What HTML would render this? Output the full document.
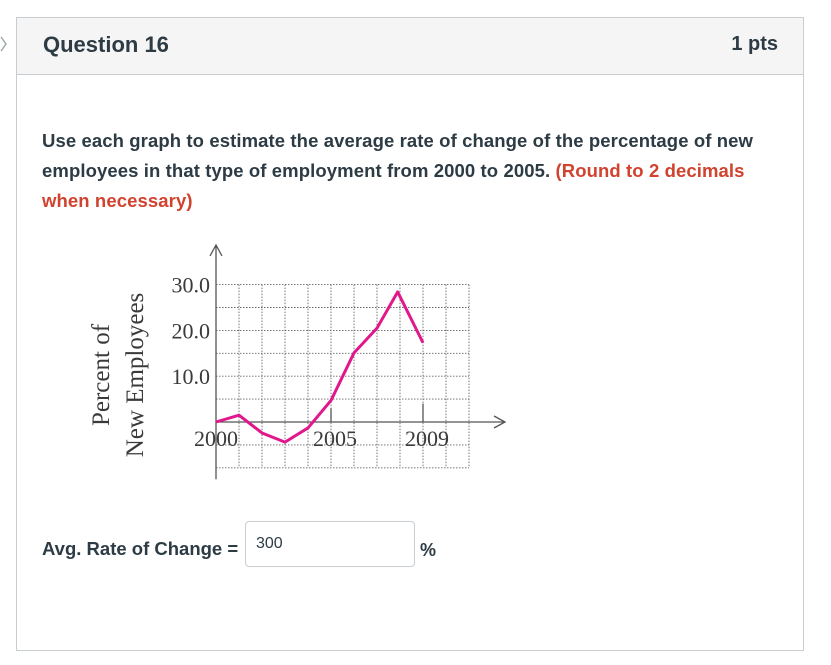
<!DOCTYPE html>
<html><head><meta charset="utf-8"><style>
body{margin:0;width:831px;height:665px;background:#fff;position:relative;overflow:hidden;font-family:"Liberation Sans",sans-serif;color:#2d3b45}
.box{position:absolute;left:16px;top:17px;width:786px;height:632px;border:1px solid #c7cdd1}
.hdr{position:absolute;left:0;top:0;width:786px;height:56px;background:#f5f5f5;border-bottom:1px solid #c7cdd1}
.t{position:absolute;font-weight:bold}
</style></head><body>
<svg style="position:absolute;left:0;top:36px" width="8" height="16"><path d="M1 1 L6 8 L1 15" fill="none" stroke="#9aa" stroke-width="1.5"/></svg>
<div class="box">
<div class="hdr">
<div class="t" style="left:26px;top:14px;font-size:22px">Question 16</div>
<div class="t" style="right:25px;top:15px;font-size:20px">1 pts</div>
</div>
<div style="position:absolute;left:25px;top:108px;width:740px;font-size:18.5px;font-weight:bold;line-height:30px;letter-spacing:0.1px">Use each graph to estimate the average rate of change of the percentage of new employees in that type of employment from 2000 to 2005. <span style="color:#d1422f">(Round to 2 decimals when necessary)</span></div>
<div class="t" style="left:25px;top:520px;font-size:18.5px">Avg. Rate of Change =</div>
<div style="position:absolute;left:228px;top:503px;width:170px;height:46px;border:1px solid #c7cdd1;border-radius:4px;font-size:16px;box-sizing:border-box;padding:14px 0 0 10px;line-height:16px">300</div>
<div class="t" style="left:403px;top:522px;font-size:18px">%</div>
</div>
<svg id="chart" width="831" height="665" style="position:absolute;left:0;top:0"></svg>
<script>
const years=[0,1,2,3,4,5,6,7,7.9,9];
const values=[0,1.5,-2.4,-4.4,-1.3,4.7,15.1,20.5,28.4,17.3];
const yTicks=[10,20,30];
const yTickLabels=["10.0","20.0","30.0"];
const xTicks=[0,5,9];
const xTickLabels=["2000","2005","2009"];
const NS="http://www.w3.org/2000/svg";
const svg=document.getElementById('chart');
const X=v=>216+v*23, Y=v=>422-v*4.58;
function mk(t,a,p){const e=document.createElementNS(NS,t);for(const k in a)e.setAttribute(k,a[k]);(p||svg).appendChild(e);return e;}
for(let i=0;i<=11;i++){const l=mk('line',{x1:X(i),x2:X(i),y1:Y(30),y2:Y(-10),stroke:'#666','stroke-width':0.9,'stroke-dasharray':'1.5,1.5'});

}
for(let v=-10;v<=30;v+=5){const l=mk('line',{x1:X(0),x2:X(11),y1:Y(v),y2:Y(v),stroke:'#666','stroke-width':0.9,'stroke-dasharray':'1.5,1.5'});

}
const ax=mk('path',{d:`M${X(0)} ${Y(-12.5)} L${X(0)} 245 M${X(0)-6} 256 L${X(0)} 245 L${X(0)+6} 256 M${X(0)} ${Y(0)} L505 ${Y(0)} M494 ${Y(0)-6} L505 ${Y(0)} L494 ${Y(0)+6}`,stroke:'#555','stroke-width':1.3,fill:'none'});


xTicks.forEach((t,i)=>{if(t>0){const tk=mk('line',{x1:X(t),x2:X(t),y1:Y(0),y2:Y(t==9?4:3),stroke:'#555','stroke-width':1.3});

}
const tx=mk('text',{x:X(t)+(t==0?0:4),y:Y(0)+24,'text-anchor':'middle','font-family':'Liberation Serif, serif','font-size':22,fill:'#3a3a3a'});tx.textContent=xTickLabels[i];

});
yTicks.forEach((t,i)=>{const tx=mk('text',{x:X(0)-6,y:Y(t)+8,'text-anchor':'end','font-family':'Liberation Serif, serif','font-size':22,fill:'#3a3a3a'});tx.textContent=yTickLabels[i];

});
const yt1=mk('text',{transform:'translate(109,375) rotate(-90)','text-anchor':'middle','font-family':'Liberation Serif, serif','font-size':25,fill:'#3a3a3a'});yt1.textContent='Percent of';


const yt2=mk('text',{transform:'translate(143,375) rotate(-90)','text-anchor':'middle','font-family':'Liberation Serif, serif','font-size':25,fill:'#3a3a3a'});yt2.textContent='New Employees';


const ln=mk('polyline',{points:years.map((y,i)=>X(y)+','+Y(values[i])).join(' '),fill:'none',stroke:'#e0188c','stroke-width':3,'stroke-linejoin':'round'});


</script>
</body></html>
